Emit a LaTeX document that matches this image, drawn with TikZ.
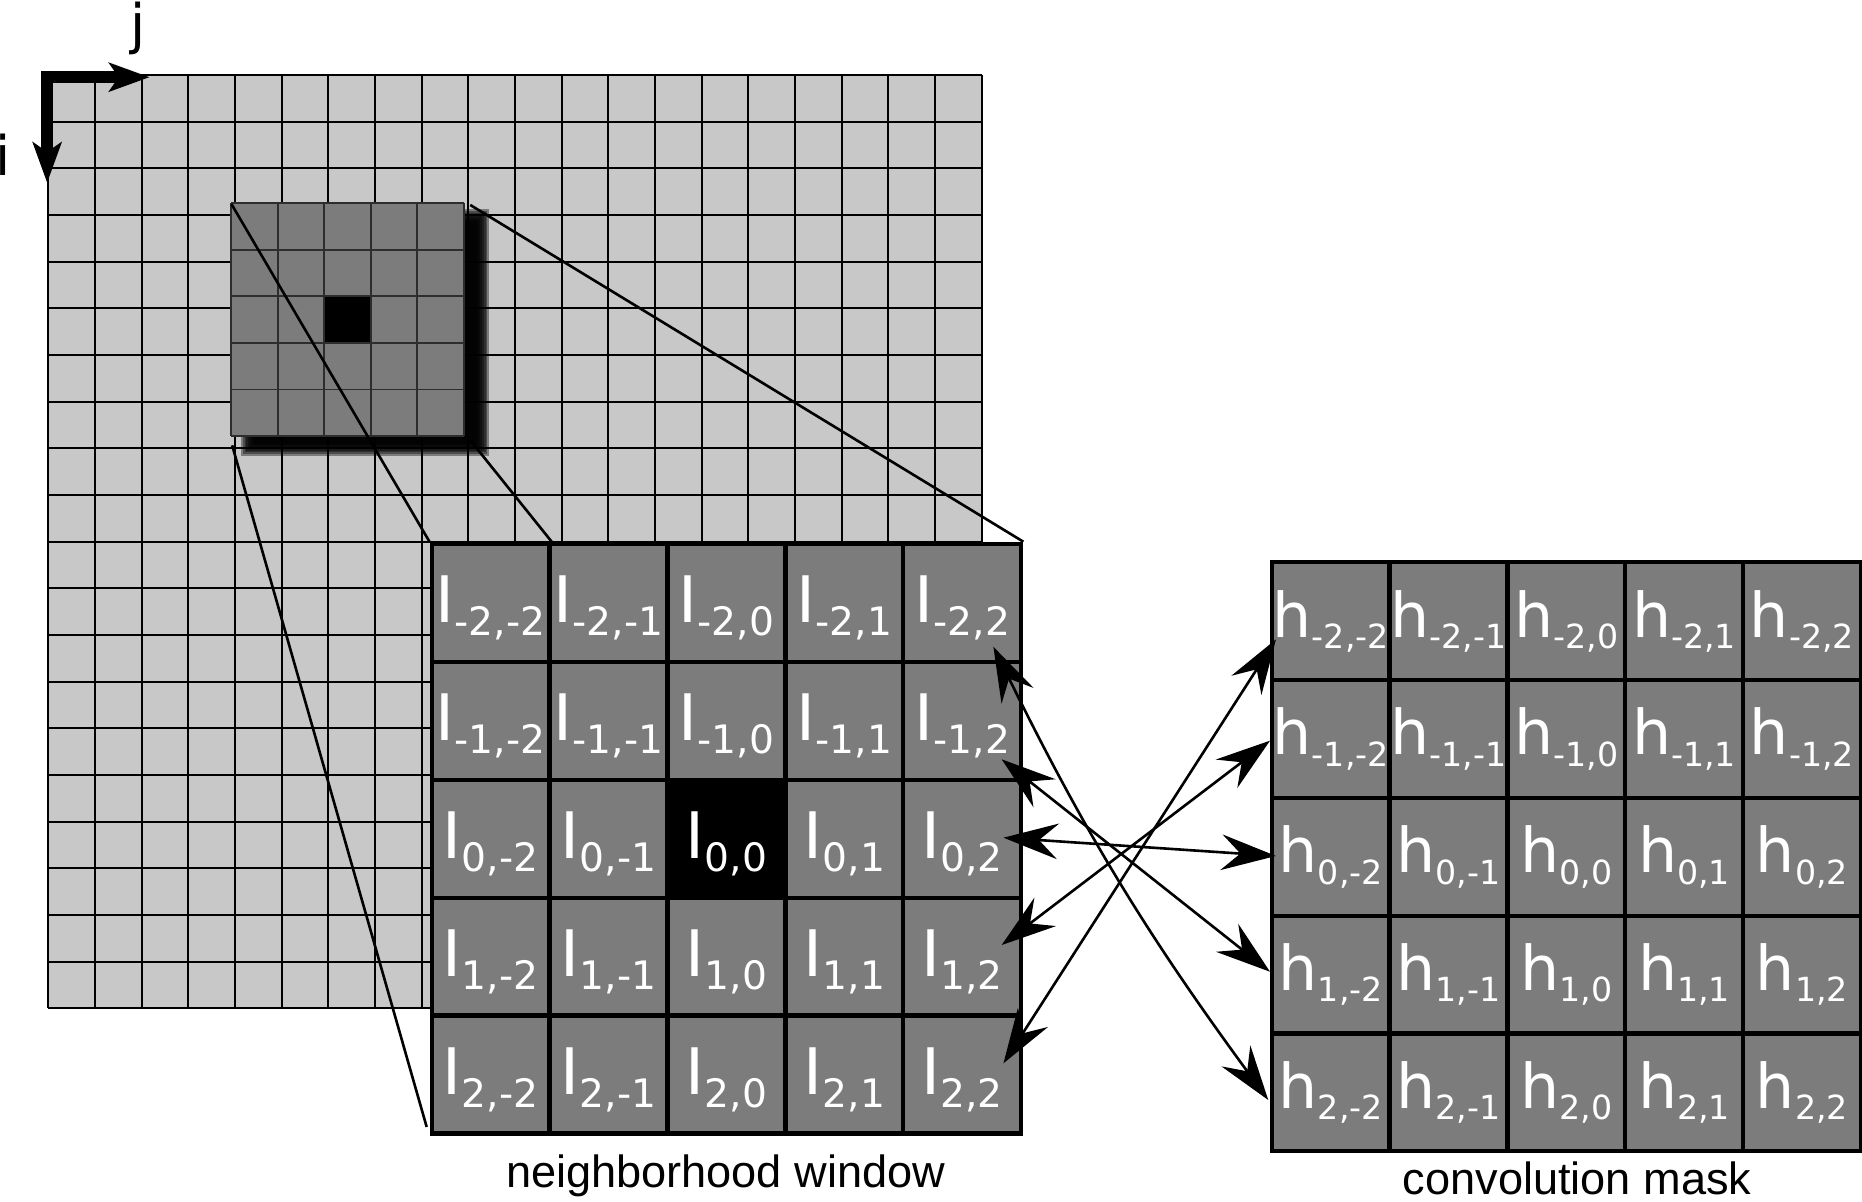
\documentclass[tikz,border=0pt]{standalone}
\usepackage{fontspec}
\setmainfont{DejaVu Sans}
\newfontfamily\capfont{Liberation Sans}
\usetikzlibrary{arrows.meta}
\definecolor{gridgray}{RGB}{200,200,200}
\definecolor{cellgray}{RGB}{124,124,124}
\definecolor{linegray}{RGB}{45,45,45}
\newcommand{\wsub}[1]{\raisebox{-5.6pt}{\fontsize{16.5}{16.5}\selectfont #1}}
\newcommand{\msub}[1]{\raisebox{-4.8pt}{\fontsize{14}{14}\selectfont #1}}

\begin{document}
\begin{tikzpicture}[x=0.5pt, y=-0.5pt]
	\tikzstyle{gridline} = [black, line width=0.8pt]
	\tikzstyle{smallline} = [linegray, line width=0.8pt]
	\tikzstyle{wcell}    = [rectangle, draw=black, line width=1.8pt, minimum size=49.65pt, inner sep=0pt, text=white, font=\fontsize{27}{30}\selectfont, text height=22pt, text depth=5.6pt]
	\tikzstyle{mcell}    = [rectangle, draw=black, line width=1.8pt, minimum size=49.6pt, inner sep=0pt, text=white, font=\fontsize{26}{30}\selectfont, text height=20pt, text depth=6.6pt]
	\tikzstyle{zoomline} = [black, line width=1.1pt]
	\tikzstyle{link}     = [black, line width=1.1pt, {Stealth[length=23pt,width=15pt,inset=8pt]}-{Stealth[length=23pt,width=15pt,inset=8pt]}]
	\tikzstyle{axis}     = [black, line width=5pt, line join=miter, {Stealth[length=17pt,width=12pt,inset=4pt]}-{Stealth[length=17pt,width=12pt,inset=4pt]}]
	\tikzstyle{axislabel} = [anchor=base west, inner sep=0pt, font=\fontsize{23}{26}\selectfont]
	\tikzstyle{caption}  = [anchor=base, inner sep=0pt, font=\capfont\fontsize{19}{22}\selectfont]

	\useasboundingbox (0,0) rectangle (1568,1012.2);

	% image grid
	\fill[gridgray] (40.7,63.2) rectangle (826.7,849.2);
	\foreach \k in {0,...,20} {
		\draw[gridline] ({40.7+39.3*\k},63.2) -- ({40.7+39.3*\k},849.2);
		\draw[gridline] (40.7,{63.2+39.3*\k}) -- (826.7,{63.2+39.3*\k});
	}

	% blurred shadow
	\foreach \b in {0,...,7}
		\fill[black, opacity=0.38] ({203+1.5*\b},{176+1.5*\b}) rectangle ({412-1.5*\b},{384-1.5*\b});

	% small window
	\fill[cellgray] (194.5,171) rectangle (390.7,367.2);
	\fill[black] (272.98,249.48) rectangle (312.22,288.72);
	\foreach \k in {0,...,5} {
		\draw[smallline] ({194.5+39.24*\k},171) -- ({194.5+39.24*\k},367.2);
		\draw[smallline] (194.5,{171+39.24*\k}) -- (390.7,{171+39.24*\k});
	}

	% neighborhood window and mask
	\foreach \r/\yy in {-2/0,-1/1,0/2,1/3,2/4}
		\foreach \c/\xx in {-2/0,-1/1,0/2,1/3,2/4} {
			\ifnum\r=0 \ifnum\c=0 \def\wfill{black}\else\def\wfill{cellgray}\fi\else\def\wfill{cellgray}\fi
			\node[wcell, fill=\wfill] (w\yy\xx) at ({413.15+99.3*\xx},{507.65+99.3*\yy}) {I\wsub{\r,\c}};
			\node[mcell, fill=cellgray] (m\yy\xx) at ({1120.6+99.2*\xx},{523.1+99.2*\yy}) {h\msub{\r,\c}};
		}

	% zoom lines
	\coordinate (sTL) at (195,172);
	\coordinate (sTR) at (396,172.6);
	\coordinate (sBL) at (195.5,375);
	\coordinate (sBR) at (395.8,370.5);
	\coordinate (wBL) at (359.3,949);
	\draw[zoomline] (sTL) -- (w00.north west);
	\draw[zoomline] (sTR) -- (w04.north east);
	\draw[zoomline] (sBL) -- (wBL);
	\draw[zoomline] (sBR) -- (w00.north east);

	% links between window and mask
	\foreach \n/\lx/\ly/\rx/\ry in {A/836.5/544.6/1068/926.3, B/843.5/639.4/1069.5/818.3, C/845/705.4/1074.5/720.8, D/843.5/795.8/1069.5/623.7, E/845/895.4/1074.5/538.4} {
		\coordinate (l\n) at (\lx,\ly);
		\coordinate (r\n) at (\rx,\ry);
	}
	\draw[link] (lA) to[bend right=5] (rA);
	\foreach \n in {B,C,D,E}
		\draw[link] (l\n) -- (r\n);

	% axes
	\coordinate (origin) at (39.7,65);
	\coordinate (jend) at (126,65);
	\coordinate (iend) at (39.7,154);
	\draw[axis] (jend) -- (origin) -- (iend);
	\node[axislabel] (jlab) at (109.3,36.6) {j};
	\node[axislabel] (ilab) at (-4.3,147.4) {i};

	% captions
	\node[caption] (wcap) at (611,1000) {neighborhood window};
	\node[caption] (mcap) at (1328,1006) {convolution mask};
\end{tikzpicture}
\end{document}
